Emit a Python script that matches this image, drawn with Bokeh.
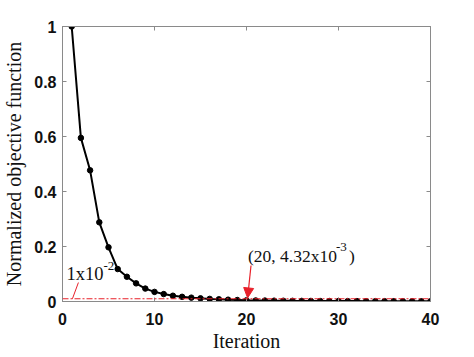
from bokeh.plotting import figure
from bokeh.models import LinearAxis, Span, Label, Arrow, NormalHead, FixedTicker, Range1d
from bokeh.embed import file_html
from bokeh.resources import INLINE

iterations = list(range(1, 41))
objective = [1.0, 0.595, 0.477, 0.288, 0.197, 0.118, 0.090, 0.066, 0.047, 0.035,
             0.027, 0.021, 0.017, 0.014, 0.0115, 0.0095, 0.0080, 0.0066, 0.0054, 0.00432,
             0.0038, 0.0034, 0.0030, 0.0027, 0.0024, 0.0022, 0.0020, 0.0018, 0.0017, 0.0016,
             0.0015, 0.0014, 0.0013, 0.0012, 0.0011, 0.0010, 0.0009, 0.0009, 0.0008, 0.0008]
x_ticks = [0, 10, 20, 30, 40]
y_ticks = [0, 0.2, 0.4, 0.6, 0.8, 1]
threshold = 0.01
threshold_text = "1x10"
threshold_sup = "-2"
highlight_text = "(20, 4.32x10"
highlight_sup = "-3"
highlight_x = 20
highlight_y = 0.00432

AX_GRAY = "#8a8a8a"
RED = "#e8202a"
SERIF = "Liberation Serif"
SANS = "Liberation Sans"

p = figure(width=474, height=357, output_backend="svg", toolbar_location=None,
           x_range=Range1d(0, 40), y_range=Range1d(0, 1),
           min_border_left=61, min_border_right=44, min_border_top=26, min_border_bottom=56)
p.grid.visible = False
p.outline_line_color = AX_GRAY
p.background_fill_color = "white"
p.border_fill_color = "white"

def style_axis(ax, labels=True):
    ax.axis_line_color = AX_GRAY
    ax.major_tick_line_color = AX_GRAY
    ax.major_tick_in = 4
    ax.major_tick_out = 0
    ax.minor_tick_line_color = None
    if labels:
        ax.major_label_text_font = SANS
        ax.major_label_text_font_style = "bold"
        ax.major_label_text_font_size = "16px"
        ax.major_label_text_color = "#111111"
    else:
        ax.major_label_text_color = None
        ax.major_label_text_font_size = "1px"
        ax.major_label_standoff = 0

p.xaxis.ticker = FixedTicker(ticks=x_ticks)
p.yaxis.ticker = FixedTicker(ticks=y_ticks)
p.yaxis.major_label_overrides = {0: "0", 1: "1"}
style_axis(p.xaxis[0])
style_axis(p.yaxis[0])
p.xaxis.major_label_standoff = 11
p.yaxis.major_label_standoff = 6
p.xaxis.axis_label = "Iteration"
p.yaxis.axis_label = "Normalized objective function"
for ax in (p.xaxis[0], p.yaxis[0]):
    ax.axis_label_text_font = SERIF
    ax.axis_label_text_font_style = "normal"
    ax.axis_label_text_font_size = "20px"
    ax.axis_label_text_color = "#111111"
p.xaxis.axis_label_standoff = 2
p.yaxis.axis_label_standoff = 6

right_ax = LinearAxis(ticker=FixedTicker(ticks=y_ticks))
top_ax = LinearAxis(ticker=FixedTicker(ticks=x_ticks))
style_axis(right_ax, labels=False)
style_axis(top_ax, labels=False)
p.add_layout(right_ax, "right")
p.add_layout(top_ax, "above")

p.add_layout(Span(location=threshold, dimension="width", line_color=RED,
                  line_width=1, line_dash="6 2 2 2"))

p.line(iterations, objective, line_color="black", line_width=2)
p.scatter(iterations, objective, size=5.5, color="black")

# pointer for threshold label
p.segment(x0=[1.08], y0=[threshold], x1=[1.73], y1=[0.069], line_color=RED, line_width=1)

p.add_layout(Label(x=0.43, y=0.101, text=threshold_text, text_font=SERIF,
                   text_font_size="18.5px", text_color="#111111", text_baseline="alphabetic"))
p.add_layout(Label(x=0.43, y=0.101, x_offset=37, y_offset=8, text=threshold_sup, text_font=SERIF,
                   text_font_size="13px", text_color="#111111", text_baseline="alphabetic"))

p.add_layout(Label(x=20.16, y=0.164, text=highlight_text, text_font=SERIF,
                   text_font_size="17.5px", text_color="#111111", text_baseline="alphabetic"))
p.add_layout(Label(x=20.16, y=0.164, x_offset=88, y_offset=9, text=highlight_sup, text_font=SERIF,
                   text_font_size="13px", text_color="#111111", text_baseline="alphabetic"))
p.add_layout(Label(x=20.16, y=0.164, x_offset=101, text=")", text_font=SERIF,
                   text_font_size="17.5px", text_color="#111111", text_baseline="alphabetic"))

p.add_layout(Arrow(end=NormalHead(size=10, fill_color=RED, line_color=RED),
                   x_start=20.49, y_start=0.131, x_end=20.12, y_end=0.013,
                   line_color=RED, line_width=1.2))

open("out.html", "w").write(file_html(p, INLINE))
